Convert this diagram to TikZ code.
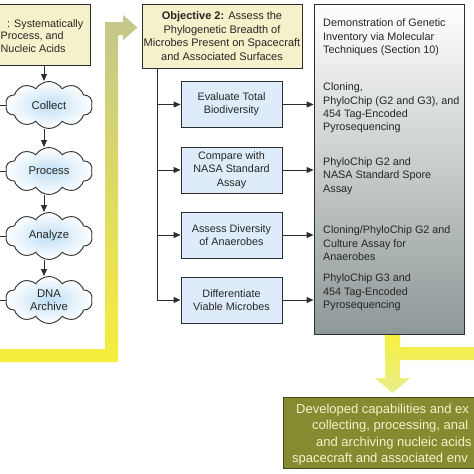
\documentclass[tikz,border=0pt]{standalone}
\usepackage{fontspec}
\setmainfont{Liberation Sans}
\usetikzlibrary{shapes.symbols,arrows.meta}
\definecolor{khaki}{RGB}{245,241,202}
\definecolor{lblue}{RGB}{222,236,250}
\definecolor{lineg}{RGB}{45,45,45}
\definecolor{cloudblue}{RGB}{190,222,245}
\definecolor{arrtop}{RGB}{196,198,140}
\definecolor{arrmid}{RGB}{230,186,160}
\definecolor{arrbot}{RGB}{246,238,60}
\definecolor{ylw}{RGB}{246,240,60}
\definecolor{ylwlight}{RGB}{232,238,140}
\definecolor{olive}{RGB}{134,138,48}
\definecolor{olivedark}{RGB}{70,72,25}
\definecolor{cream}{RGB}{245,242,205}
\definecolor{graybot}{RGB}{142,152,152}
\definecolor{graymid}{RGB}{218,222,222}
\begin{document}
\begin{tikzpicture}[x=1pt,y=-1pt,
  txt/.style={font=\fontsize{10.8}{13.4}\selectfont, text=black!85},
  conn/.style={draw=lineg, line width=0.9pt},
  arr/.style={conn, -{Triangle[length=7pt,width=6pt]}},
  kbox/.style={draw=lineg, line width=0.9pt, fill=khaki, txt, align=center, inner sep=0pt},
  bbox/.style={draw=lineg, line width=0.9pt, fill=lblue, txt, align=center, inner sep=0pt,
    minimum width=101pt, minimum height=46pt},
  cloudnode/.style={cloud, cloud puffs=10, cloud puff arc=115, aspect=1.9, draw=lineg,
    line width=0.9pt, inner color=cloudblue, outer color=white, txt,
    font=\fontsize{11.3}{13.5}\selectfont, align=center,
    minimum width=87pt, minimum height=47pt, inner sep=0pt},
  rtxt/.style={txt, align=left, anchor=west, inner sep=0pt},
  btxt/.style={font=\fontsize{13}{16}\selectfont, text=cream, anchor=base west, inner sep=0pt}
]
\useasboundingbox (0,0) rectangle (474,474);

% big left gradient arrow
\shade[top color=arrtop, middle color=arrmid, bottom color=arrbot]
  (0,349) -- (105,349) -- (105,22) -- (123,22) -- (123,15) -- (137.5,27.5)
  -- (123,40) -- (123,35) -- (118,35) -- (118,362) -- (0,362) -- cycle;

% bottom right yellow arrow
\shade[top color=ylw, bottom color=ylwlight]
  (385,334) -- (400,334) -- (400,347) -- (474,347) -- (474,360) -- (400,360)
  -- (400,378) -- (410,378) -- (392.5,393) -- (375,378) -- (385,378) -- cycle;

% left objective box (partially visible)
\node[kbox, minimum width=112pt, minimum height=61pt] (obj1) at (34,34.5) {};
\node[txt, anchor=base west, inner sep=0pt] (o1a) at (7,27) {: Systematically};
\node[txt, anchor=base west, inner sep=0pt] (o1b) at (0.5,39.5) {Process, and};
\node[txt, anchor=base west, inner sep=0pt] (o1c) at (0.5,52.5) {Nucleic Acids};

% clouds
\node[cloudnode] (c1) at (49,105) {Collect};
\node[cloudnode] (c2) at (49,171) {Process};
\node[cloudnode] (c3) at (49,236) {Analyze};
\node[cloudnode] (c4) at (49,300) {DNA\\Archive};

\coordinate (lx) at (44,0);
\draw[arr] (obj1.south -| lx) -- (lx |- c1.north);
\draw[arr] (lx |- c1.south) -- (lx |- c2.north);
\draw[arr] (lx |- c2.south) -- (lx |- c3.north);
\draw[arr] (lx |- c3.south) -- (lx |- c4.north);

\coordinate (edge) at (-5,0);
\foreach \c in {c1,c2,c3,c4} \draw[conn] (\c.west) -- (edge |- \c.west);

% objective 2
\node[kbox, minimum width=160pt, minimum height=64pt, font=\fontsize{11}{13.7}\selectfont] (obj2) at (222,36)
  {\textbf{Objective 2:} Assess the\\Phylogenetic Breadth of\\Microbes Present on Spacecraft\\and Associated Surfaces};

% blue boxes
\node[bbox] (b1) at (231.5,104.5) {Evaluate Total\\Biodiversity};
\node[bbox] (b2) at (231.5,170) {Compare with\\NASA Standard\\Assay};
\node[bbox] (b3) at (231.5,235) {Assess Diversity\\of Anaerobes};
\node[bbox] (b4) at (231.5,300) {Differentiate\\Viable Microbes};

% right box
\node[draw=lineg, line width=0.9pt, top color=white, middle color=graymid, bottom color=graybot,
  minimum width=150pt, minimum height=330pt, inner sep=0pt] (rb) at (389,169) {};

\node[rtxt] (r0) at (323,37.5) {Demonstration of Genetic\\Inventory via Molecular\\Techniques (Section 10)};
\node[rtxt] (r1) at (323,108) {Cloning,\\PhyloChip (G2 and G3), and\\454 Tag-Encoded\\Pyrosequencing};
\node[rtxt] (r2) at (323,176) {PhyloChip G2 and\\NASA Standard Spore\\Assay};
\node[rtxt] (r3) at (323,243.5) {Cloning/PhyloChip G2 and\\Culture Assay for\\Anaerobes};
\node[rtxt] (r4) at (323,292.5) {PhyloChip G3 and\\454 Tag-Encoded\\Pyrosequencing};

% trunk and branches
\coordinate (tx) at (157.5,0);
\draw[arr] (obj2.south -| tx) |- (b4.west);
\foreach \b in {b1,b2,b3} \draw[arr] (tx |- \b.west) -- (\b.west);
\foreach \b in {b1,b2,b3,b4} \draw[arr] (\b.east) -- (\b.east -| rb.west);

% bottom olive box
\node[draw=olivedark, line width=0.9pt, fill=olive, minimum width=200pt, minimum height=71pt,
  inner sep=0pt] (ob) at (383,432.5) {};
\node[btxt] (t1) at (296,413.5) {Developed capabilities and ex};
\node[btxt] (t2) at (312,429.5) {collecting, processing, anal};
\node[btxt] (t3) at (316,446) {and archiving nucleic acids};
\node[btxt] (t4) at (292,462) {spacecraft and associated env};
\end{tikzpicture}
\end{document}
